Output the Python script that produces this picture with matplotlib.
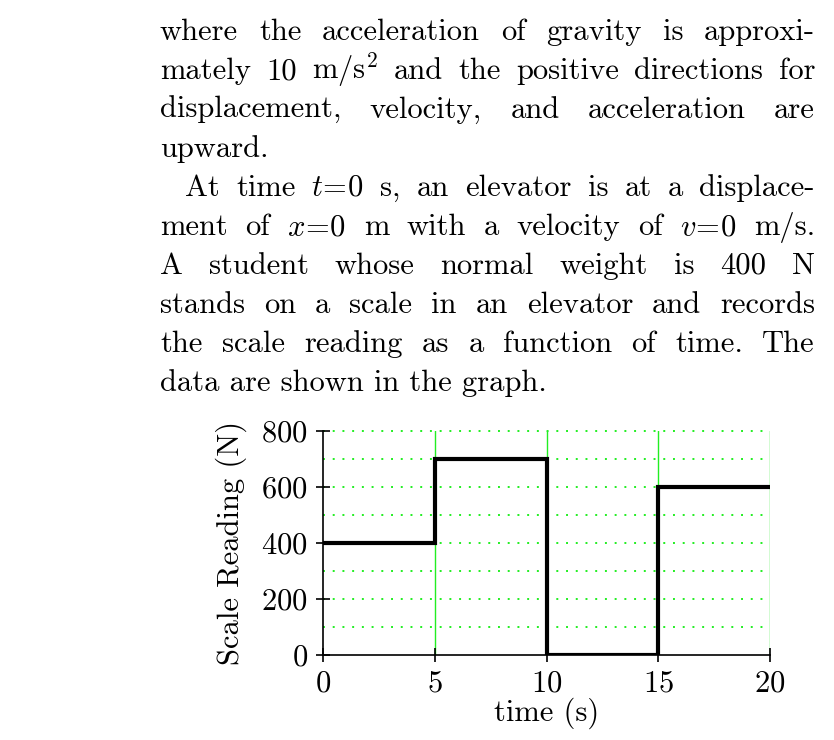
import matplotlib
matplotlib.use("Agg")
import matplotlib.pyplot as plt

plt.rcParams['font.family'] = 'serif'
plt.rcParams['font.serif'] = ['cmr10', 'DejaVu Serif']
plt.rcParams['mathtext.fontset'] = 'cm'
plt.rcParams['axes.formatter.use_mathtext'] = True

# paragraph text
lines = [
    r"where the acceleration of gravity is approxi-",
    r"mately 10 m/s$^2$ and the positive directions for",
    r"displacement, velocity, and acceleration are",
    r"upward.",
    r"At time $t\!=\!0$ s, an elevator is at a displace-",
    r"ment of $x\!=\!0$ m with a velocity of $v\!=\!0$ m/s.",
    r"A student whose normal weight is 400 N",
    r"stands on a scale in an elevator and records",
    r"the scale reading as a function of time. The",
    r"data are shown in the graph.",
]
indents = [0, 0, 0, 0, 1, 0, 0, 0, 0, 0]
justify = [1, 1, 1, 0, 1, 1, 1, 1, 1, 0]

# step data
t_edges = [0, 5, 10, 15, 20]
readings = [400, 700, 0, 600]
x_ticks = [0, 5, 10, 15, 20]
y_ticks = [0, 200, 400, 600, 800]

W, H = 834, 740
fig = plt.figure(figsize=(8.34, 7.4), dpi=100)
renderer = fig.canvas.get_renderer()
FS = 22

# draw text; justified lines placed word by word
left_px, right_px = 160, 815
for i, line in enumerate(lines):
    x0 = left_px + 25 * indents[i]
    y = 1 - (40 + 39 * i) / H
    if not justify[i]:
        fig.text(x0 / W, y, line, fontsize=FS, va='baseline', ha='left')
        continue
    words = line.split(' ')
    arts = [fig.text(0, y, w, fontsize=FS, va='baseline', ha='left') for w in words]
    widths = [a.get_window_extent(renderer).width for a in arts]
    gap = (right_px - x0 - sum(widths)) / max(len(words) - 1, 1)
    x = x0
    for a, w in zip(arts, widths):
        a.set_x(x / W)
        x += w + gap

ax = fig.add_axes([323 / W, 85 / H, 447 / W, 224 / H])

# grid
for yy in range(100, 900, 100):
    ax.axhline(yy, color='#22ee22', linestyle=(0, (1, 4)), linewidth=1.4, zorder=0, clip_on=False)
for xx in x_ticks[1:]:
    ax.axvline(xx, color='#22ee22', linewidth=1.0, zorder=0)

ax.stairs(readings, t_edges, color='black', linewidth=3, baseline=None)

ax.set_xlim(0, 20)
ax.set_ylim(0, 800)
ax.set_xticks(x_ticks)
ax.set_yticks(y_ticks)
ax.tick_params(direction='inout', length=10, width=1.2, labelsize=22, pad=6)
ax.spines['top'].set_visible(False)
ax.spines['right'].set_visible(False)
ax.spines['left'].set_linewidth(1.2)
ax.spines['bottom'].set_linewidth(1.2)
ax.set_xlabel('time (s)', fontsize=22, labelpad=0)
ax.set_ylabel('Scale Reading (N)', fontsize=22, labelpad=10)

fig.savefig('out.png', dpi=100)
